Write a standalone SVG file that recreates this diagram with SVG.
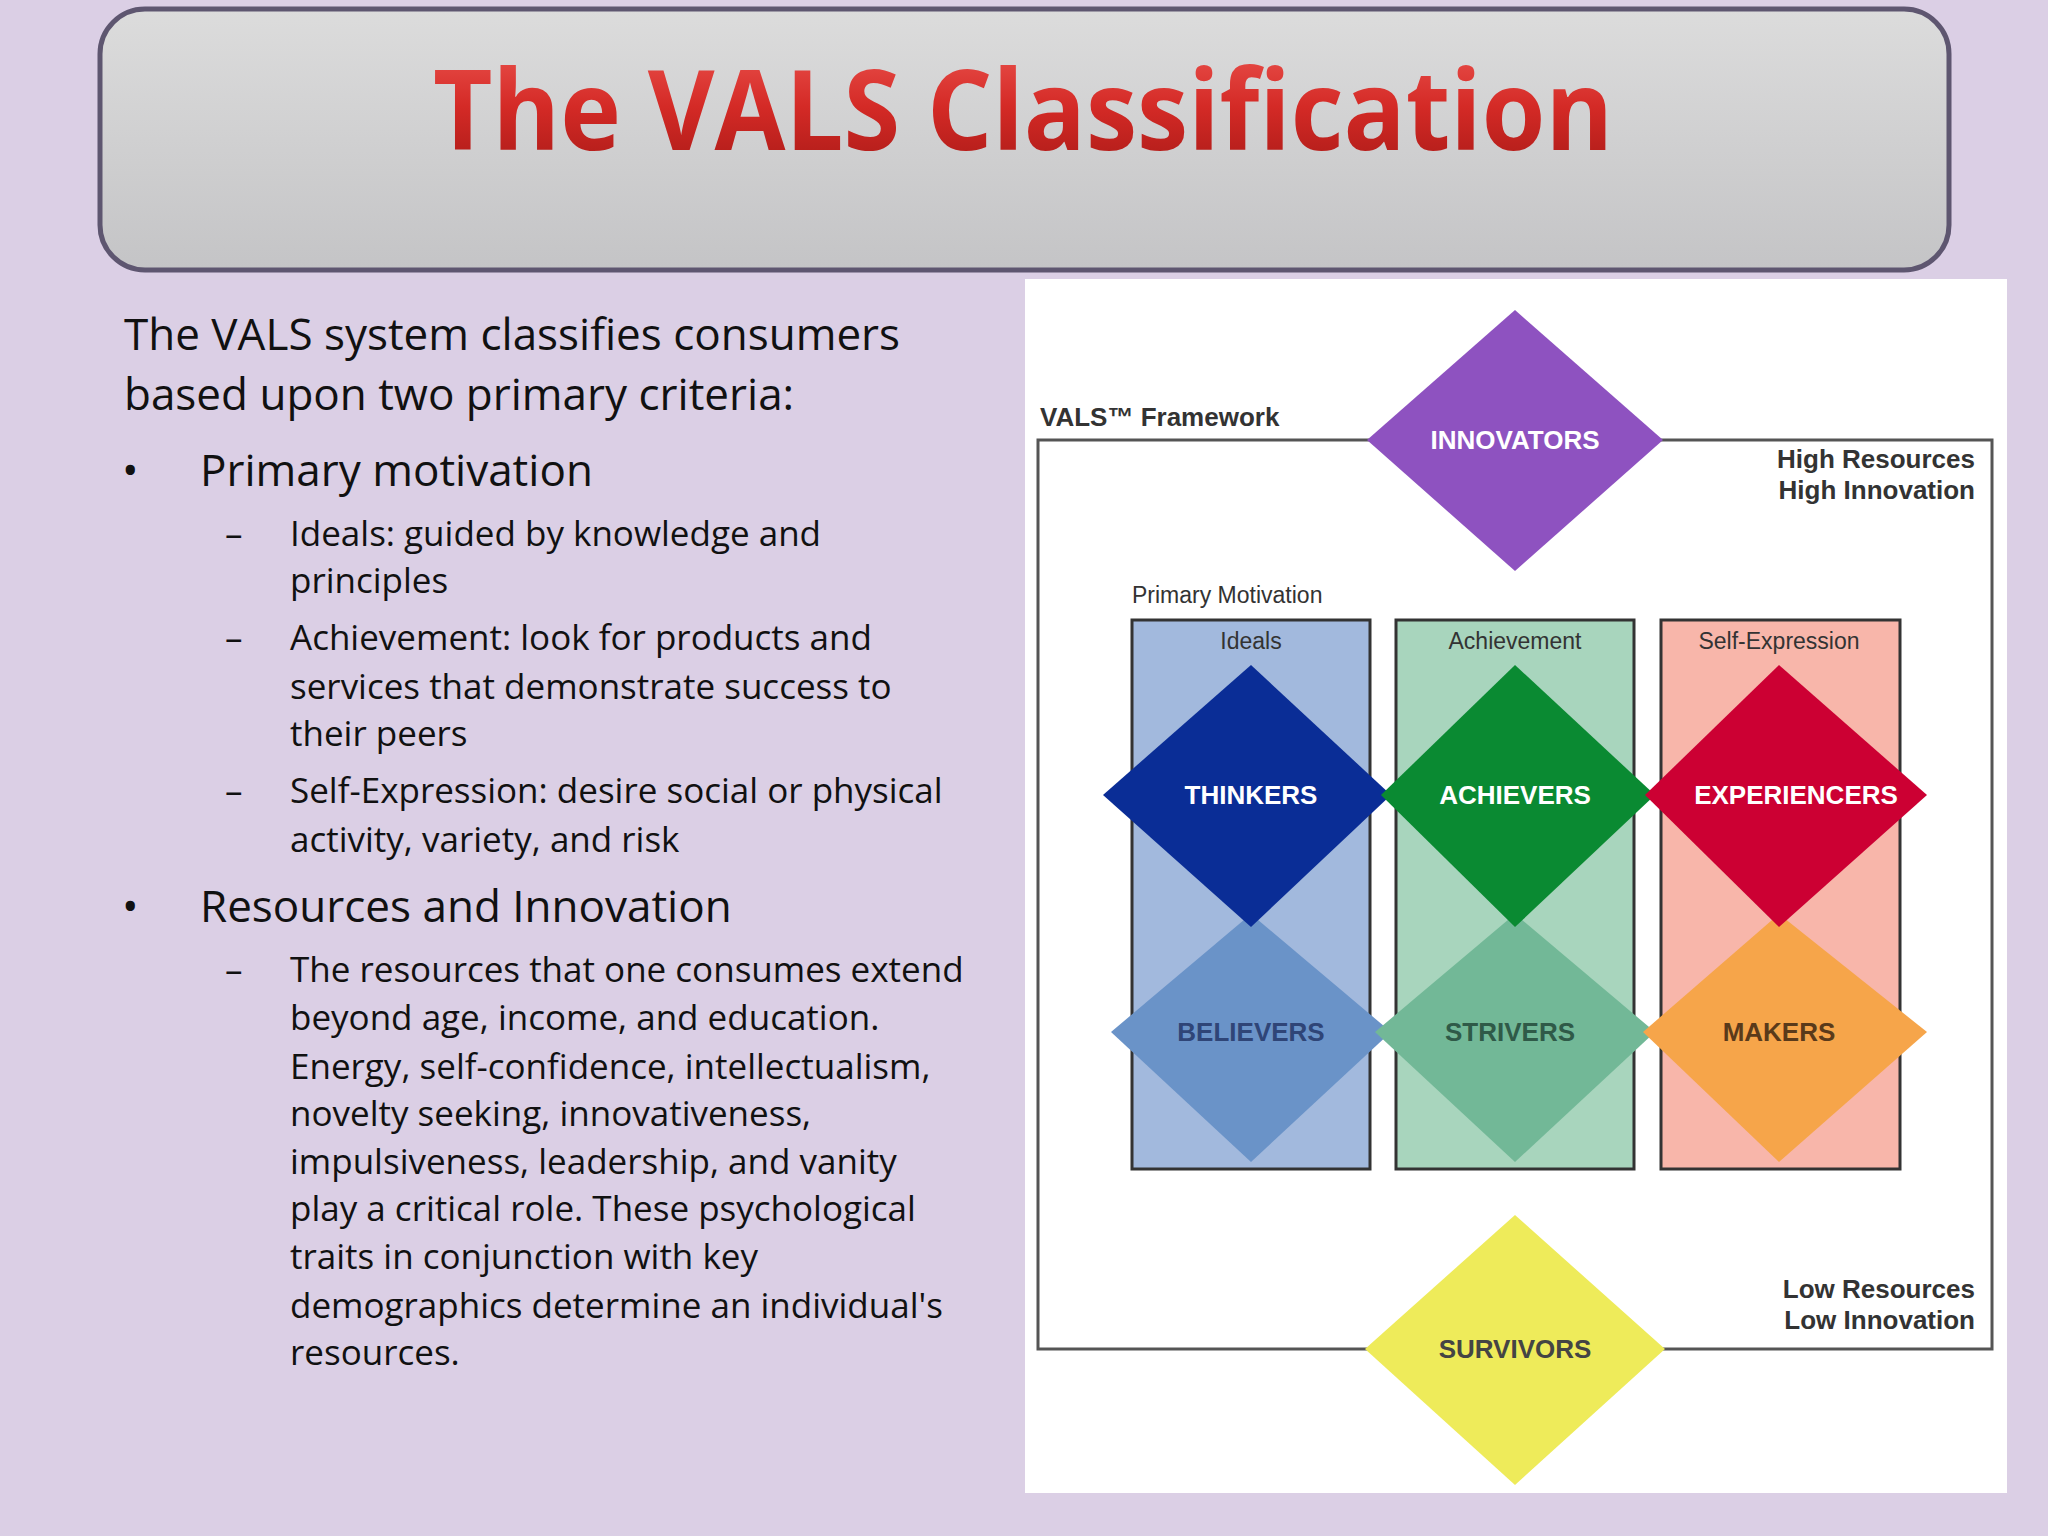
<svg xmlns="http://www.w3.org/2000/svg" width="2048" height="1536" viewBox="0 0 2048 1536">
<defs>
<linearGradient id="tg" x1="0" y1="0" x2="0" y2="1"><stop offset="0" stop-color="#ef5a55"/><stop offset="0.5" stop-color="#d42a26"/><stop offset="1" stop-color="#a51815"/></linearGradient>
<linearGradient id="bg" x1="0" y1="0" x2="0" y2="1"><stop offset="0" stop-color="#dcdcdc"/><stop offset="1" stop-color="#c4c4c6"/></linearGradient>
</defs>
<style>
.body{font-family:"Open Sans","Liberation Sans",sans-serif;fill:#111}
.l{font-size:44px}.s{font-size:35px}
.d{font-family:"Liberation Sans",Arial,sans-serif;font-weight:bold;font-size:26px;text-anchor:middle}
.w{fill:#fff}
.g{font-family:"Liberation Sans",Arial,sans-serif;fill:#333}
.col{stroke:#333;stroke-width:3}
</style>
<rect width="2048" height="1536" fill="#dbcfe5"/>
<g id="title">
<rect x="100" y="9" width="1849" height="261" rx="45" fill="url(#bg)" stroke="#5e5670" stroke-width="5"/>
<text x="1023" y="150" text-anchor="middle" font-family="Open Sans,Liberation Sans,sans-serif" font-weight="bold" font-size="112" fill="url(#tg)" textLength="1180" lengthAdjust="spacingAndGlyphs">The VALS Classification</text>
</g>
<g id="bodytext" class="body">
<text class="l" x="124" y="350">The VALS system classifies consumers</text>
<text class="l" x="124" y="410">based upon two primary criteria:</text>
<text class="l" x="122" y="486">•</text><text class="l" x="200" y="486">Primary motivation</text>
<text class="s" x="225" y="546">–</text><text class="s" x="290" y="546">Ideals: guided by knowledge and</text>
<text class="s" x="290" y="593">principles</text>
<text class="s" x="225" y="650">–</text><text class="s" x="290" y="650">Achievement: look for products and</text>
<text class="s" x="290" y="699">services that demonstrate success to</text>
<text class="s" x="290" y="746">their peers</text>
<text class="s" x="225" y="803">–</text><text class="s" x="290" y="803">Self-Expression: desire social or physical</text>
<text class="s" x="290" y="852">activity, variety, and risk</text>
<text class="l" x="122" y="922">•</text><text class="l" x="200" y="922">Resources and Innovation</text>
<text class="s" x="225" y="982">–</text><text class="s" x="290" y="982">The resources that one consumes extend</text>
<text class="s" x="290" y="1030">beyond age, income, and education.</text>
<text class="s" x="290" y="1079">Energy, self-confidence, intellectualism,</text>
<text class="s" x="290" y="1126">novelty seeking, innovativeness,</text>
<text class="s" x="290" y="1174">impulsiveness, leadership, and vanity</text>
<text class="s" x="290" y="1221">play a critical role. These psychological</text>
<text class="s" x="290" y="1269">traits in conjunction with key</text>
<text class="s" x="290" y="1318">demographics determine an individual's</text>
<text class="s" x="290" y="1365">resources.</text>
</g>
<rect x="1025" y="279" width="982" height="1214" fill="#fff"/>
<g id="connectors">
<rect x="1038" y="440" width="954" height="909" fill="none" stroke="#555" stroke-width="3"/>
</g>
<g id="labels" class="g">
<text x="1040" y="426" font-size="26" font-weight="bold">VALS™ Framework</text>
<text x="1975" y="468" font-size="26" font-weight="bold" text-anchor="end">High Resources</text>
<text x="1975" y="499" font-size="26" font-weight="bold" text-anchor="end">High Innovation</text>
<text x="1975" y="1298" font-size="26" font-weight="bold" text-anchor="end">Low Resources</text>
<text x="1975" y="1329" font-size="26" font-weight="bold" text-anchor="end">Low Innovation</text>
<text x="1132" y="603" font-size="23">Primary Motivation</text>
</g>
<g id="col-ideals"><rect class="col" x="1132" y="620" width="238" height="549" fill="#a2b9dd"/><text class="g" x="1251" y="649" font-size="23" text-anchor="middle">Ideals</text></g>
<g id="col-achievement"><rect class="col" x="1396" y="620" width="238" height="549" fill="#a8d5bd"/><text class="g" x="1515" y="649" font-size="23" text-anchor="middle">Achievement</text></g>
<g id="col-selfexpression"><rect class="col" x="1661" y="620" width="239" height="549" fill="#f8b6aa"/><text class="g" x="1779" y="649" font-size="23" text-anchor="middle">Self-Expression</text></g>
<g id="innovators"><polygon points="1515,310 1663,440 1515,571 1367,440" fill="#8e52c0"/><text class="d w" x="1515" y="449">INNOVATORS</text></g>
<g id="believers"><polygon points="1251,914 1391,1032 1251,1162 1111,1032" fill="#6a93c8"/><text class="d" x="1251" y="1041" fill="#2f4577">BELIEVERS</text></g>
<g id="strivers"><polygon points="1515,914 1655,1032 1515,1162 1375,1032" fill="#72b897"/><text class="d" x="1510" y="1041" fill="#2f5a48">STRIVERS</text></g>
<g id="makers"><polygon points="1779,914 1927,1032 1779,1162 1643,1032" fill="#f6a54a"/><text class="d" x="1779" y="1041" fill="#5a3a1a">MAKERS</text></g>
<g id="thinkers"><polygon points="1251,665 1391,795 1251,927 1103,795" fill="#0a2d96"/><text class="d w" x="1251" y="804">THINKERS</text></g>
<g id="achievers"><polygon points="1515,665 1655,795 1515,927 1381,795" fill="#0a8a32"/><text class="d w" x="1515" y="804">ACHIEVERS</text></g>
<g id="experiencers"><polygon points="1779,665 1927,795 1779,927 1645,795" fill="#cc0033"/><text class="d w" x="1796" y="804">EXPERIENCERS</text></g>
<g id="survivors"><polygon points="1515,1215 1665,1349 1515,1485 1365,1349" fill="#eeeb5a"/><text class="d" x="1515" y="1358" fill="#444">SURVIVORS</text></g>
</svg>
